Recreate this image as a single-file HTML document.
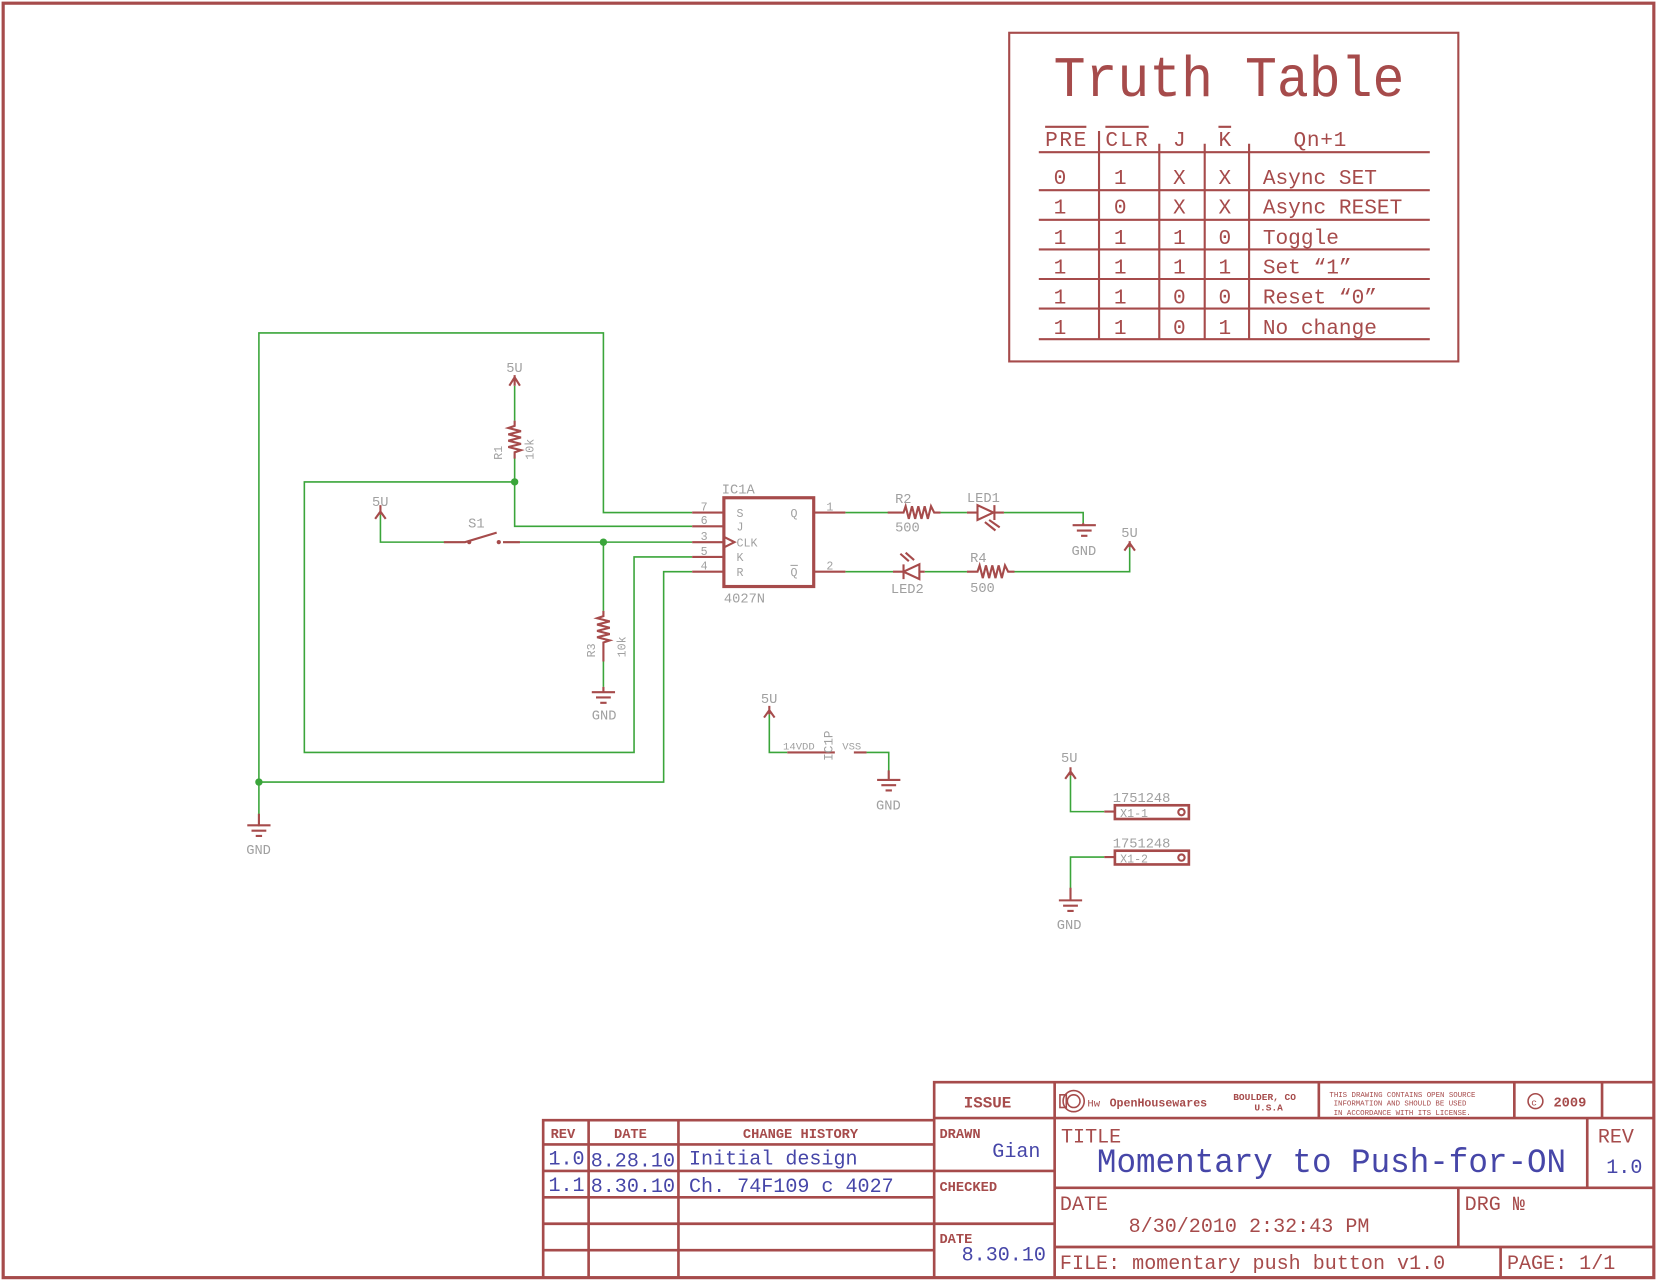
<!DOCTYPE html>
<html><head><meta charset="utf-8"><style>
html,body{margin:0;padding:0;background:#fff;}
svg{display:block;}
text{font-family:"Liberation Mono",monospace;}
.r{fill:#a64b4b}.g{fill:#a0a0a0}.b{fill:#4646a8}
</style></head><body>
<svg width="1657" height="1284" viewBox="0 0 1568 1215" xmlns="http://www.w3.org/2000/svg">
<g fill="none" stroke="#a64b4b" stroke-width="3">
<rect x="3" y="3" width="1562" height="1206"/>
</g>
<!-- Truth table -->
<g fill="none" stroke="#a64b4b" stroke-width="2">
<rect x="955" y="31" width="425" height="311"/>
<path d="M983 144H1353M983 180H1353M983 208H1353M983 236H1353M983 264H1353M983 292H1353M983 321H1353"/>
<path d="M1040 124V321M1097 136V321M1140 136V321M1182 136V321"/>
<path d="M989 120H1028M1046 120H1087M1153 120H1165"/>
</g>
<g class="r" font-size="20">
<text x="997" y="91" font-size="54" textLength="332" lengthAdjust="spacingAndGlyphs">Truth Table</text>
<text x="989" y="138" textLength="39">PRE</text><text x="1046" y="138" textLength="40">CLR</text><text x="1110" y="138">J</text><text x="1153" y="138">K</text><text x="1224" y="138" textLength="50">Qn+1</text>
<text x="997" y="174">0</text><text x="1054" y="174">1</text><text x="1110" y="174">X</text><text x="1153" y="174">X</text><text x="1195" y="174">Async SET</text>
<text x="997" y="202">1</text><text x="1054" y="202">0</text><text x="1110" y="202">X</text><text x="1153" y="202">X</text><text x="1195" y="202">Async RESET</text>
<text x="997" y="231">1</text><text x="1054" y="231">1</text><text x="1110" y="231">1</text><text x="1153" y="231">0</text><text x="1195" y="231">Toggle</text>
<text x="997" y="259">1</text><text x="1054" y="259">1</text><text x="1110" y="259">1</text><text x="1153" y="259">1</text><text x="1195" y="259">Set “1”</text>
<text x="997" y="287">1</text><text x="1054" y="287">1</text><text x="1110" y="287">0</text><text x="1153" y="287">0</text><text x="1195" y="287">Reset “0”</text>
<text x="997" y="316">1</text><text x="1054" y="316">1</text><text x="1110" y="316">0</text><text x="1153" y="316">1</text><text x="1195" y="316">No change</text>
</g>
<!-- Green wires -->
<g fill="none" stroke="#3aa53a" stroke-width="1.5">
<path d="M245 782V315H571V485H655"/>
<path d="M487 430V498H655"/>
<path d="M487 456H288V712H600V527H655"/>
<path d="M360 487V513H440M476 513H655"/>
<path d="M571 513V578M571 626V650"/>
<path d="M655 541H628V740H245"/>
<path d="M487 365V398"/>
<path d="M800 485H850M890 485H915M950 485H1025V495"/>
<path d="M800 541H845M875 541H915M960 541H1069V518"/>
<path d="M728 676V712H745M820 712H841V738"/>
<path d="M1013 734V768H1045M1045 811H1013V852"/>
</g>
<g fill="#3aa53a"><circle cx="487" cy="456" r="3.5"/><circle cx="571" cy="513" r="3.5"/><circle cx="245" cy="740" r="3.5"/></g>
<!-- Red components -->
<g fill="none" stroke="#a64b4b" stroke-width="2">
<rect x="685" y="471" width="85" height="84" stroke-width="3"/>
<path d="M655 485H685M655 498H685M655 513H685M655 527H685M655 541H685M770 485H800M770 541H800"/>
<path d="M685 508L695 513L685 518"/>
<!-- R1 vertical -->
<path d="M487 398V403L481 405L493 408L481 411L493 414L481 417L493 420L481 423L493 426L487 428V434"/>
<!-- R3 -->
<path d="M571 578V583L565 585L577 588L565 591L577 594L565 597L577 600L565 603L577 606L571 608V626"/>
<!-- R2 -->
<path d="M840 485H855L857 479L860 491L863 479L866 491L869 479L872 491L875 479L878 491L881 479L884 485H890"/>
<!-- R4 -->
<path d="M915 541H925L927 535L930 547L933 535L936 547L939 535L942 547L945 535L948 547L951 535L954 541H960"/>
<!-- LED1 -->
<path d="M915 485H925M925 478V492L940 485Z M941 478V492M941 485H950"/>
<path d="M932 494L942 502M936 492L946 499"/>
<!-- LED2 -->
<path d="M845 541H855M855 541L870 534V548Z M855 534V548M870 541H875"/>
<path d="M852 524L860 531M857 523L865 530"/>
<!-- 5V arrows -->
<path d="M487 365V355M482 365L487 357L492 365"/>
<path d="M360 487V478M355 491L360 484L365 491"/>
<path d="M1069 518V512M1064 521L1069 514L1074 521"/>
<path d="M728 676V668M723 679L728 672L733 679"/>
<path d="M1013 734V726M1008 737L1013 730L1018 737"/>
<!-- switch -->
<path d="M420 513H440L470 504M476 513H492"/>
<!-- GND symbols -->
<path d="M1025 495V497M1015 497H1037M1019 502H1033M1023 507H1029"/>
<path d="M571 650V655M560 655H582M564 660H578M568 665H574"/>
<path d="M245 770V781M234 781H256M238 786H252M242 791H248"/>
<path d="M841 729V738M830 738H852M834 743H848M838 748H844"/>
<path d="M1013 840V852M1002 852H1024M1006 857H1020M1010 862H1016"/>
<path d="M745 712H790M808 712H820"/>
<path d="M1045 768H1055M1045 811H1055"/>
<rect x="1055" y="762" width="70" height="13" stroke-width="2.5"/>
<rect x="1055" y="805" width="70" height="13" stroke-width="2.5"/>
<circle cx="1118" cy="768.5" r="3"/><circle cx="1118" cy="811.5" r="3"/>
</g>
<g class="r"><circle cx="444" cy="513" r="2"/><circle cx="472" cy="513" r="2"/></g>
<!-- Grey labels -->
<g class="g" font-size="13">
<text x="479" y="352">5U</text><text x="352" y="479">5U</text><text x="1061" y="508">5U</text><text x="720" y="665">5U</text><text x="1004" y="721">5U</text>
<text x="443" y="499">S1</text>
<text x="1014" y="525">GND</text><text x="560" y="681">GND</text><text x="233" y="808">GND</text><text x="829" y="766">GND</text><text x="1000" y="879">GND</text>
<text x="683" y="467">IC1A</text><text x="685" y="570">4027N</text>
<text x="847" y="476">R2</text><text x="847" y="503">500</text><text x="915" y="475">LED1</text>
<text x="843" y="561">LED2</text><text x="918" y="532">R4</text><text x="918" y="560">500</text>
<text x="1053" y="759">1751248</text><text x="1053" y="802">1751248</text>
<g font-size="11"><text x="1060" y="773">X1-1</text><text x="1060" y="816">X1-2</text>
<text x="663" y="483">7</text><text x="663" y="496">6</text><text x="663" y="511">3</text><text x="663" y="525">5</text><text x="663" y="539">4</text>
<text x="782" y="483">1</text><text x="782" y="539">2</text>
<text x="697" y="489">S</text><text x="697" y="502">J</text><text x="697" y="517">CLK</text><text x="697" y="531">K</text><text x="697" y="545">R</text>
<text x="748" y="489">Q</text><text x="748" y="545">Q</text>
<text x="741" y="709" font-size="10">14VDD</text><text x="797" y="709" font-size="10">VSS</text>
<text transform="translate(475,435) rotate(-90)">R1</text><text transform="translate(505,435) rotate(-90)">10k</text>
<text transform="translate(563,622) rotate(-90)">R3</text><text transform="translate(592,622) rotate(-90)">10k</text>
<text transform="translate(788,720) rotate(-90)" font-size="12">IC1P</text></g>
</g>
<path d="M748 535H755" stroke="#a0a0a0" stroke-width="1"/>
<!-- Change history block -->
<g fill="none" stroke="#a64b4b" stroke-width="2.5">
<path d="M514 1208V1060H884"/>
<path d="M514 1083H884M514 1108H884M514 1133H884M514 1158H884M514 1183H884"/>
<path d="M557 1060V1208M642 1060V1208"/>
</g>
<g class="r" font-size="13" font-weight="bold">
<text x="521" y="1077">REV</text><text x="581" y="1077">DATE</text><text x="703" y="1077">CHANGE HISTORY</text>
</g>
<g class="b" font-size="19">
<text x="519" y="1102">1.0</text><text x="559" y="1104">8.28.10</text><text x="652" y="1102">Initial design</text>
<text x="519" y="1127">1.1</text><text x="559" y="1128">8.30.10</text><text x="652" y="1128">Ch. 74F109 c 4027</text>
</g>
<!-- Title block -->
<g fill="none" stroke="#a64b4b" stroke-width="2.5">
<path d="M884 1208V1024H1565"/>
<path d="M998 1024V1208M884 1058H1565M884 1108H998M884 1158H998"/>
<path d="M1248 1024V1058M1433 1024V1058M1516 1024V1058"/>
<path d="M1502 1058V1124M998 1124H1565M1380 1124V1180M998 1180H1565M1420 1180V1208"/>
</g>
<g class="r">
<text x="912" y="1048" font-size="15" font-weight="bold">ISSUE</text>
<text x="889" y="1077" font-size="13" font-weight="bold">DRAWN</text>
<text x="889" y="1127" font-size="13" font-weight="bold">CHECKED</text>
<text x="889" y="1176" font-size="13" font-weight="bold">DATE</text>
<text x="1050" y="1047" font-size="11" font-weight="bold">OpenHousewares</text>
<text x="1167" y="1041" font-size="9" font-weight="bold">BOULDER, CO</text>
<text x="1187" y="1051" font-size="9" font-weight="bold">U.S.A</text>
<text x="1258" y="1038" font-size="7">THIS DRAWING CONTAINS OPEN SOURCE</text>
<text x="1262" y="1046" font-size="7">INFORMATION AND SHOULD BE USED</text>
<text x="1262" y="1055" font-size="7">IN ACCORDANCE WITH ITS LICENSE.</text>
<text x="1470" y="1047" font-size="13" font-weight="bold">2009</text>
<text x="1004" y="1081" font-size="19">TITLE</text>
<text x="1512" y="1081" font-size="19">REV</text>
<text x="1003" y="1145" font-size="19">DATE</text>
<text x="1386" y="1145" font-size="19">DRG №</text>
<text x="1068" y="1166" font-size="19">8/30/2010 2:32:43 PM</text>
<text x="1003" y="1201" font-size="19">FILE: momentary push button v1.0</text>
<text x="1426" y="1201" font-size="19">PAGE: 1/1</text>
</g>
<g fill="none" stroke="#a64b4b" stroke-width="1.5">
<circle cx="1016" cy="1042" r="10"/><circle cx="1016" cy="1042" r="6"/><rect x="1003" y="1036" width="6" height="12"/>
<circle cx="1453" cy="1042" r="7"/>
</g>
<text x="1029" y="1047" font-size="10" class="r">Hw</text>
<text x="1449" y="1046" font-size="9" class="r">c</text>
<g class="b">
<text x="939" y="1095" font-size="19">Gian</text>
<text x="910" y="1193" font-size="19">8.30.10</text>
<text x="1038" y="1109" font-size="32" textLength="444" lengthAdjust="spacingAndGlyphs">Momentary to Push-for-ON</text>
<text x="1520" y="1110" font-size="19">1.0</text>
</g>
</svg>
</body></html>
